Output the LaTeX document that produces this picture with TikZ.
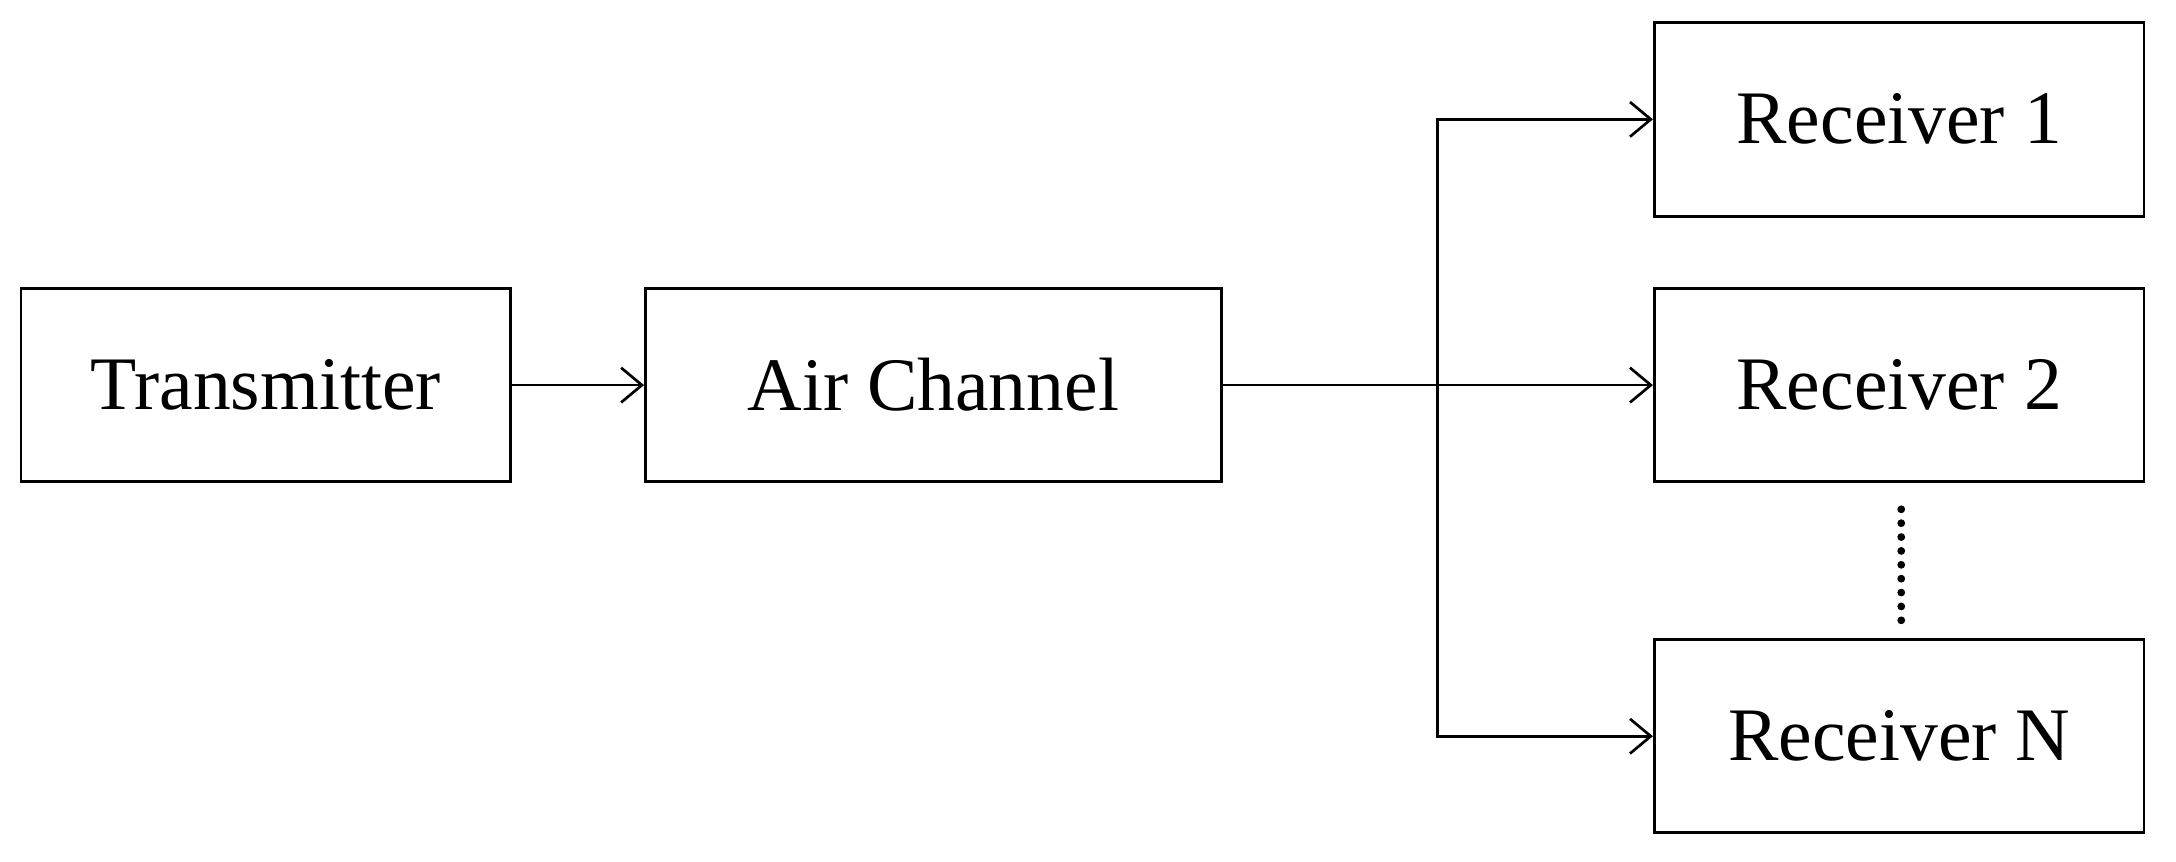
\documentclass[tikz,border=0pt]{standalone}
\usepackage{fontspec}
\setmainfont{Liberation Serif}
\usetikzlibrary{arrows.meta}
\begin{document}
\begin{tikzpicture}[x=0.02cm,y=-0.02cm,
  box/.style={draw,line width=1.1pt,minimum width=7.06cm,minimum height=2.78cm,inner sep=0pt,font=\fontsize{31}{36}\selectfont},
  conn/.style={line width=1.1pt},
  arr/.style={conn,-{Straight Barb[length=0.3cm,width=0.5cm,line width=1.1pt]}}]
\useasboundingbox (0,0) rectangle (1568,621);
\node[box] (tx) at (191.5,277.5) {Transmitter};
\node[box,minimum width=8.3cm] (air) at (672.5,277.5) {Air Channel};
\node[box,minimum height=2.8cm] (r1) at (1368.5,86) {Receiver 1};
\node[box] (r2) at (1368.5,277.5) {Receiver 2};
\node[box] (rn) at (1368.5,530.5) {Receiver N};
\coordinate (b) at (1036,277.5);
\draw[arr] (tx) -- (air);
\draw[conn] (air) -- (b);
\draw[arr] (b) -- (r2);
\draw[arr] (b) |- (r1);
\draw[arr] (b) |- (rn);
\coordinate (d1) at (1370,367);
\coordinate (d2) at (1370,447);
\draw[line width=3.2pt,line cap=round,dash pattern=on 0pt off 0.2cm] (d1) -- (d2);
\end{tikzpicture}
\end{document}
